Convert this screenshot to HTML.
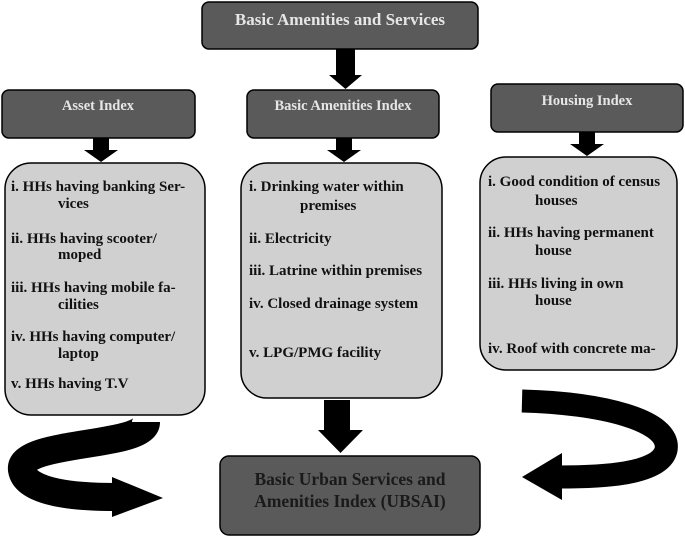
<!DOCTYPE html>
<html><head><meta charset="utf-8"><style>
html,body{margin:0;padding:0;background:#fff;}
svg{display:block;}
text{font-family:"Liberation Serif",serif;font-weight:bold;}
.d{fill:#5a5a5a;stroke:#000;stroke-width:1.5;}
.l{fill:#d0d0d0;stroke:#000;stroke-width:1.5;}
.w{fill:#e6e6e6;}
.t{fill:#111;font-size:15px;}
</style></head><body>
<svg width="685" height="538" viewBox="0 0 685 538" xmlns="http://www.w3.org/2000/svg">
<rect class="d" x="202" y="2" width="276" height="47" rx="7"/>
<text class="w" x="340" y="25" style="font-size:17px" text-anchor="middle">Basic Amenities and Services</text>
<polygon points="336,49 355,49 355,75 362,75 345.5,89 329,75 336,75" fill="#000"/>

<rect class="d" x="2" y="90" width="193" height="48" rx="7"/>
<text class="w" x="98" y="110" style="font-size:14.5px" text-anchor="middle">Asset Index</text>
<rect class="d" x="247" y="90" width="192" height="48" rx="7"/>
<text class="w" x="343" y="110" style="font-size:14.5px" text-anchor="middle">Basic Amenities Index</text>
<rect class="d" x="491" y="84" width="192" height="48" rx="7"/>
<text class="w" x="587" y="105" style="font-size:14.5px" text-anchor="middle">Housing Index</text>

<polygon points="93,138 109,138 109,150 118,150 101,162 84,150 93,150" fill="#000"/>
<polygon points="336,138 352,138 352,150 361,150 344,162 327,150 336,150" fill="#000"/>
<polygon points="579,132 595,132 595,144 604,144 587,156 570,144 579,144" fill="#000"/>

<rect class="l" x="5" y="163" width="200" height="252" rx="26"/>
<g class="t">
<text x="11" y="191">i. HHs having banking Ser-</text>
<text x="58" y="208">vices</text>
<text x="11" y="243">ii. HHs having scooter/</text>
<text x="58" y="259">moped</text>
<text x="11" y="292">iii. HHs having mobile fa-</text>
<text x="58" y="309">cilities</text>
<text x="11" y="341">iv. HHs having computer/</text>
<text x="58" y="358">laptop</text>
<text x="11" y="388">v. HHs having T.V</text>
</g>

<rect class="l" x="241" y="163" width="201" height="235" rx="26"/>
<g class="t">
<text x="249" y="191">i. Drinking water within</text>
<text x="300" y="210">premises</text>
<text x="249" y="243">ii. Electricity</text>
<text x="249" y="275">iii. Latrine within premises</text>
<text x="249" y="308">iv. Closed drainage system</text>
<text x="249" y="357">v. LPG/PMG facility</text>
</g>

<rect class="l" x="480" y="157" width="197" height="213" rx="26"/>
<g class="t">
<text x="488" y="186">i. Good condition of census</text>
<text x="535" y="205">houses</text>
<text x="488" y="237">ii. HHs having permanent</text>
<text x="535" y="255">house</text>
<text x="488" y="288">iii. HHs living in own</text>
<text x="535" y="305">house</text>
<text x="488" y="353">iv. Roof with concrete ma-</text>
</g>

<polygon points="324,400 350,400 350,430 363,430 340.5,453 318,430 324,430" fill="#000"/>
<rect class="d" x="220" y="456" width="260" height="79" rx="9"/>
<text x="350" y="485" style="font-size:17.5px;fill:#1a1a1a" text-anchor="middle">Basic Urban Services and</text>
<text x="350" y="507" style="font-size:17.5px;fill:#1a1a1a" text-anchor="middle">Amenities Index (UBSAI)</text>

<path d="M146,422 C146,448 18,440 22,470 C26,494 80,497 115,497" fill="none" stroke="#000" stroke-width="28"/>
<polygon points="112,477 163,498 112,517" fill="#000"/>
<path d="M522,401 C600,403 672,420 666,450 C660,475 600,477 558,477" fill="none" stroke="#000" stroke-width="23"/>
<polygon points="562,453 522,477 562,500" fill="#000"/>
</svg>
</body></html>
